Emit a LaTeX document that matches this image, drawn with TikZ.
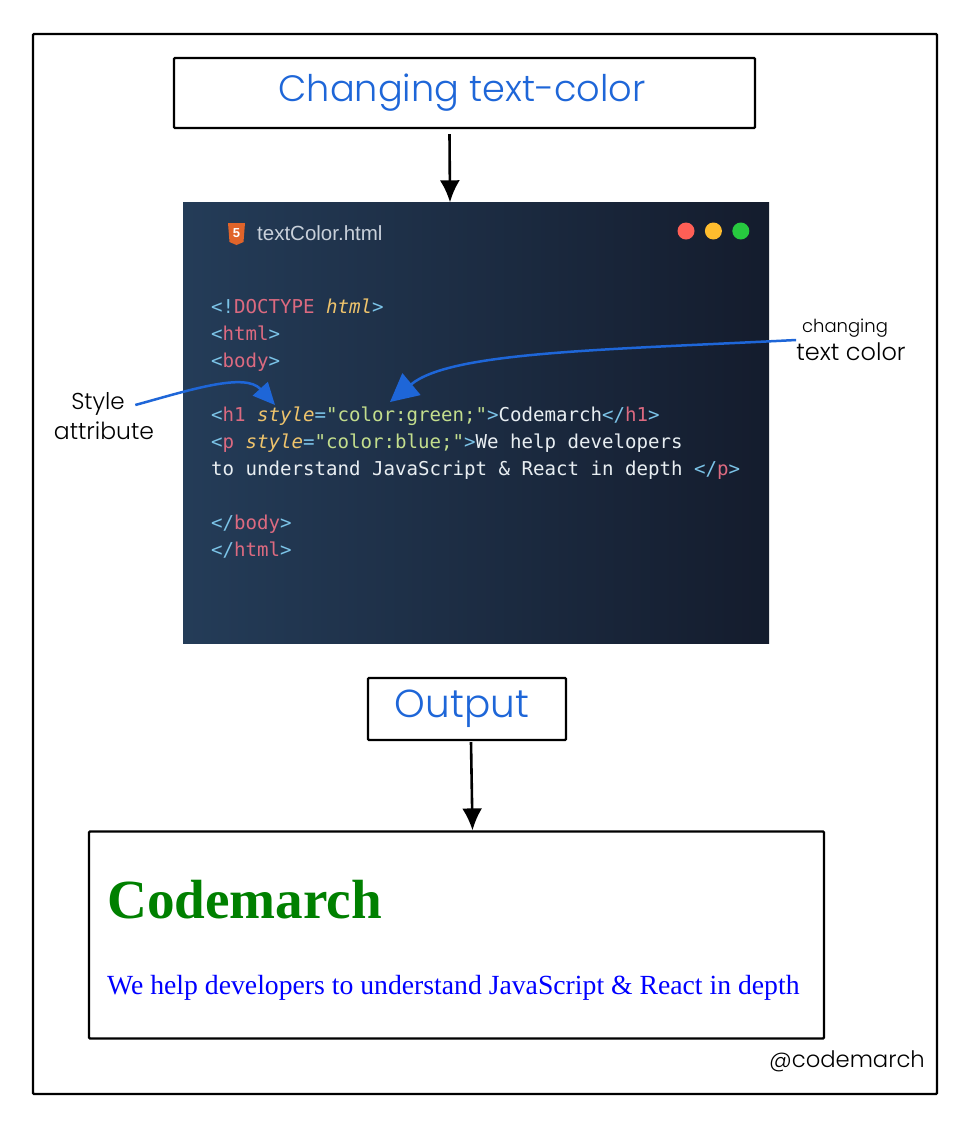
\documentclass[tikz,border=0pt]{standalone}
\usepackage{fontspec}
\usetikzlibrary{arrows.meta, positioning}
\setmainfont{Liberation Serif}
\newfontfamily\handfont{Poppins Light}
\newfontfamily\codefont{DejaVu Sans Mono}
\newfontfamily\capfont{Liberation Sans}
\definecolor{inkblue}{HTML}{1E66D8}
\definecolor{codeblue}{HTML}{7CC4E8}
\definecolor{codered}{HTML}{DC6A80}
\definecolor{codeyellow}{HTML}{EFC46C}
\definecolor{codegreen}{HTML}{C3DE8D}
\definecolor{codewhite}{HTML}{E8EEF2}
\definecolor{badgeorange}{HTML}{E0642A}
\newcommand{\bl}[1]{\textcolor{codeblue}{#1}}
\newcommand{\rd}[1]{\textcolor{codered}{#1}}
\newcommand{\yl}[1]{\textcolor{codeyellow}{\itshape #1}}
\newcommand{\gr}[1]{\textcolor{codegreen}{#1}}
\newcommand{\fs}[1]{\fontsize{#1}{#1}\selectfont}

\begin{document}
\begin{tikzpicture}[x=1pt, y=-1pt, node distance = 10pt and 10pt]
\tikzstyle{frame} = [draw = black, line width = 2.2pt, rounded corners = 1pt, inner sep = 0pt]
\tikzstyle{connect} = [-{Latex[length=22pt, width=20pt]}, line width = 2.6pt]
\tikzstyle{note} = [line width = 2.5pt, draw = inkblue, inkblue]
\tikzstyle{heading} = [text = inkblue, font = \handfont]
\tikzstyle{scribble} = [text = black, font = \handfont\fs{19}, align = center, inner sep = 0pt]
\tikzstyle{codeline} = [anchor = base west, inner sep = 0pt, text = codewhite, font = \codefont\fs{19.1}]
\tikzstyle{dot} = [circle, minimum size = 17pt, inner sep = 0pt]
\useasboundingbox (0,0) rectangle (969,1128);
  \fill[white] (0,0) rectangle (969,1128);
  \node[frame, minimum width = 904pt, minimum height = 1060pt] (outer) at (485,564) {};
  \node[frame, minimum width = 581pt, minimum height = 70pt] (title) at (464.5,93) {};
  \node[heading, font = \handfont\fs{36.7}] (titletext) at (462,93) {Changing text-color};
  \node[minimum width = 586pt, minimum height = 441pt, inner sep = 0pt, shade, left color = {rgb,255:red,36;green,60;blue,88}, right color = {rgb,255:red,20;green,28;blue,45}] (editor) at (476,423) {};
% file tab
  \fill[badgeorange] (228,223) -- (245,223) -- (243.5,242) -- (236.5,245) -- (229.5,242) -- cycle;
  \node[text = white, font = \capfont\bfseries\fs{13}, inner sep = 0pt] (badge) at (236.5,233) {5};
  \node[anchor = base west, inner sep = 0pt, text = {rgb,255:red,200;green,208;blue,218}, font = \capfont\fs{20.5}] (filename) at (257,240) {textColor.html};
  \node[dot, fill = {rgb,255:red,255;green,95;blue,86}] (reddot) at (686,231) {};
  \node[dot, fill = {rgb,255:red,255;green,189;blue,46}, right = 10pt of reddot] (yellowdot) {};
  \node[dot, fill = {rgb,255:red,39;green,201;blue,63}, right = 10pt of yellowdot] (greendot) {};
% code
  \node[codeline] (doctype) at (211,313) {\bl{<!}\rd{DOCTYPE} \yl{html}\bl{>}};
  \node[codeline] (htmlopen) at (211,340) {\bl{<}\rd{html}\bl{>}};
  \node[codeline] (bodyopen) at (211,367) {\bl{<}\rd{body}\bl{>}};
  \node[codeline] (hone) at (211,421) {\bl{<}\rd{h1} \yl{style}\bl{=}\gr{"color:green;"}\bl{>}Codemarch\bl{</}\rd{h1}\bl{>}};
  \node[codeline] (para) at (211,448) {\bl{<}\rd{p} \yl{style}\bl{=}\gr{"color:blue;"}\bl{>}We help developers};
  \node[codeline] (paratwo) at (211,475) {to understand JavaScript \& React in depth \bl{</}\rd{p}\bl{>}};
  \node[codeline] (bodyclose) at (211,529) {\bl{</}\rd{body}\bl{>}};
  \node[codeline] (htmlclose) at (211,556) {\bl{</}\rd{html}\bl{>}};
% side notes
  \node[scribble] (stylenote) at (104,416) {{\fs{23}Style\hspace*{12pt}}\\[5pt]{\fs{23.5}attribute}};
  \node[scribble] (colornote) at (851,340) {{\fs{18}changing\hspace*{12pt}}\\[5pt]{\fs{24}text color}};
  \coordinate (styletip) at (275,405);
  \coordinate (colortip) at (390,402);
  \draw[note, -{Triangle[length=22pt, width=20pt]}] ([xshift=-19pt, yshift=11pt]stylenote.east) .. controls (190,390) and (245,372) .. (styletip);
  \draw[note, -{Triangle[length=28pt, width=28pt]}] (colornote.west) .. controls (600,350) and (450,352) .. (colortip);
% output
  \node[frame, minimum width = 198pt, minimum height = 62pt] (output) at (467,709) {};
  \node[heading, font = \handfont\fs{39}] (outputtext) at (462,709) {Output};
  \node[frame, minimum width = 735pt, minimum height = 207pt] (result) at (456.5,935) {};
  \node[anchor = base west, inner sep = 0pt, text = {rgb,255:red,0;green,128;blue,0}, font = \bfseries\fs{55.2}] (resulthead) at (107,918) {Codemarch};
  \node[anchor = base west, inner sep = 0pt, text = {rgb,255:red,0;green,0;blue,255}, font = \fs{27.7}] (resultbody) at (107,994) {We help developers to understand JavaScript \& React in depth};
  \node[scribble, anchor = east, font = \handfont\fs{22.7}] (handle) at (925,1061) {@codemarch};
\path[connect, draw] ([xshift=-15pt, yshift=-5pt]title.south) -- ([xshift=-26pt]editor.north);
\path[connect, draw] ([xshift=4pt, yshift=-1pt]output.south) -- ([xshift=16pt]result.north);
\end{tikzpicture}
\end{document}
